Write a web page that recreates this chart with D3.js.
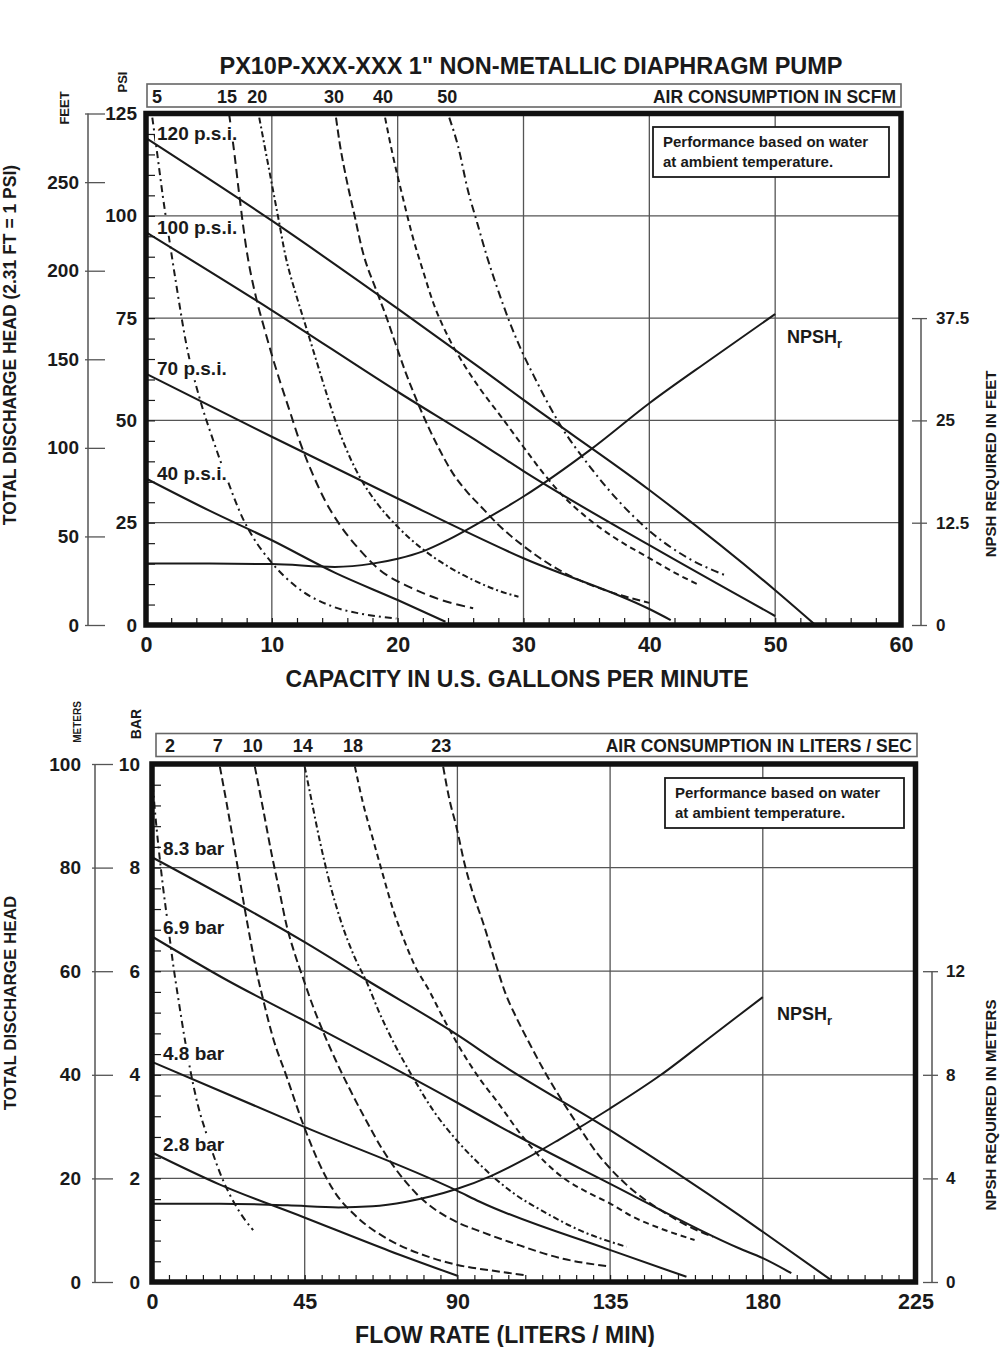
<!DOCTYPE html>
<html><head><meta charset="utf-8">
<script src="https://cdn.jsdelivr.net/npm/d3@7"></script>
<style>
body{margin:0;background:#fff;}
svg{display:block;font-family:"Liberation Sans",Arial,Helvetica,sans-serif;font-weight:bold;}
</style></head><body>
<script>
// ================= TOP CHART DATA (US units) =================
const gpmTicks   = [0,10,20,30,40,50,60];
const psiTicks   = [0,25,50,75,100,125];
const feetTicks  = [0,50,100,150,200,250];
const npshFtTicks= [0,12.5,25,37.5];
const scfmValues = [5,15,20,30,40,50];
const psiNames   = ["120 p.s.i.","100 p.s.i.","70 p.s.i.","40 p.s.i."];
// pressure curves [GPM, PSI]
const psi120 = [[0,119],[10,98.8],[20,77.3],[26.6,62.7],[30,55],[40,33],[50,8.5],[53.2,0]];
const psi100 = [[0,96],[10,76.9],[20,57],[26.6,44.4],[30,37.6],[40,19.5],[50,2.2]];
const psi70  = [[0,61.4],[10,46],[20,30.9],[30,16.3],[40,3.9],[41.7,1.2]];
const psi40  = [[0,35.8],[5,28],[10,20.7],[15,12.8],[20,6.1],[23.8,0.8]];
// NPSH required [GPM, feet]
const npshFt = [[0,7.5],[5,7.5],[10,7.45],[15,7.1],[18,7.5],[20,8.1],[22,9.0],[24,10.4],[26.6,12.6],[30,15.7],[35.3,21.4],[40,27.1],[45,32.6],[50,38]];
// air consumption curves [GPM, PSI]
const scfm5  = [[0.5,124],[0.9,115],[1.35,104.5],[1.86,94],[2.39,83.5],[3.18,69],[4.3,55],[5.3,45.5],[6.4,36],[7.7,26],[8.5,21.5],[10,15.2],[12,9.2],[14.85,4.5],[17,2.8],[19.9,1.6]];
const scfm15 = [[6.6,125],[7.03,115.1],[7.4,105.4],[8,91.5],[8.75,80],[9.4,72.5],[10,66],[10.6,60],[11.4,52.5],[12.2,45],[13.3,36.5],[14.3,30],[15.4,24.5],[17,18.3],[18.6,13.4],[21,9.2],[23.3,6.3],[26,4.1]];
const scfm20 = [[9,124],[9.8,111],[10.5,99.7],[11.1,90],[11.9,81],[12.7,73],[13.5,65],[14.3,57],[15.1,49.5],[16.2,41],[17.2,35],[18.3,30],[20,24],[22,18.5],[24,14.3],[26,11],[28,8.4],[29.6,6.9]];
const scfm30 = [[15.1,124],[15.4,117.6],[15.9,109.4],[16.6,99.7],[17.2,91.5],[18.3,81.8],[19.1,75.3],[19.8,69],[20.6,62],[21.5,55],[22.5,48],[23.3,43],[24.4,37],[25.5,32.6],[26.6,29],[28,24.5],[30,19.3],[33.7,12],[36.5,8.5],[40,5.4]];
const scfm40 = [[19,124],[19.6,115],[20.4,104.6],[21.2,94.8],[22,86.7],[22.8,79],[24,70.5],[25.3,63.5],[26.6,57.5],[28.2,51],[30,43.5],[31.6,37],[33,32],[35.3,25.6],[37.5,20.8],[39.8,16.7],[42,12.8],[44,9.7]];
const scfm50 = [[24.1,124],[24.8,117],[25.6,106],[26.3,98.5],[27.1,90],[27.9,82.5],[28.9,74],[30,66],[30.8,61],[31.8,55],[32.9,49],[35.3,38.6],[37.5,30.5],[40,23],[43,16.5],[46,12.2]];

// ================= BOTTOM CHART DATA (metric) =================
const lpmTicks   = [0,45,90,135,180,225];
const barTicks   = [0,2,4,6,8,10];
const meterTicks = [0,20,40,60,80,100];
const npshMTicks = [0,4,8,12];
const lpsValues  = [2,7,10,14,18,23];
const barNames   = ["8.3 bar","6.9 bar","4.8 bar","2.8 bar"];
// pressure curves [L/min, bar]
const bar83 = [[0,8.2],[45,6.56],[63.2,5.83],[90,4.77],[102.5,4.22],[135,2.93],[173,1.29],[180,0.97],[200.5,0.02]];
const bar69 = [[0,6.67],[22,5.83],[44.7,5.05],[90,3.46],[102.5,3.0],[134.9,1.9],[173,0.65],[180,0.46],[188.4,0.17]];
const bar48 = [[0,4.25],[44.7,3.0],[90,1.76],[96.6,1.55],[134.9,0.62],[157.5,0.1]];
const bar28 = [[0,2.5],[20,1.88],[44.7,1.25],[70,0.6],[90,0.12]];
// NPSH required [L/min, meters]
const npshM = [[0,3.02],[20,3.02],[40,2.96],[55,2.88],[65,2.92],[75,3.1],[82,3.3],[90,3.6],[100,4.1],[110,4.75],[120,5.5],[135,6.7],[150,8.0],[165,9.5],[180,11.0]];
// air consumption curves [L/min, bar]
const lps2  = [[0.2,9.6],[1.0,9.0],[2.0,8.35],[3.3,7.6],[4.8,6.85],[6.3,6.1],[7.8,5.45],[9.5,4.75],[11.5,4.02],[13.5,3.42],[16.1,2.85],[20.5,2.03],[24.9,1.45],[29.8,1.0]];
const lps7  = [[20,9.95],[22,9.24],[23.9,8.53],[25.4,7.95],[27.4,7.18],[29.3,6.5],[30.8,6.0],[32.8,5.44],[35.5,4.75],[39.7,3.96],[44.8,3.0],[48.5,2.4],[53.4,1.78],[60.3,1.26],[70,0.81],[80.9,0.5],[90,0.33],[102.5,0.2],[110,0.13]];
const lps10 = [[30.3,9.95],[32.8,9.11],[35.2,8.28],[37.7,7.5],[39.6,6.9],[42,6.35],[44.6,5.85],[47,5.4],[50.5,4.82],[54,4.3],[58.3,3.72],[63,3.13],[68,2.55],[78,1.7],[90,1.15],[96.6,0.98],[106.4,0.75],[121.1,0.45],[134.9,0.3]];
const lps14 = [[45,9.95],[47,9.3],[49.5,8.5],[52,7.8],[55.5,7.0],[59.5,6.3],[63.2,5.8],[67,5.2],[71,4.65],[76.9,3.95],[83,3.3],[90,2.72],[96.6,2.27],[106.4,1.72],[116.2,1.33],[126,1.0],[139.8,0.68]];
const lps18 = [[59.8,9.95],[62.2,9.24],[65.2,8.53],[68.1,7.85],[71,7.2],[74,6.65],[77.5,6.1],[81.9,5.6],[85,5.2],[90,4.6],[96.6,3.92],[101.5,3.5],[109.3,2.8],[116.2,2.29],[122.1,1.97],[129,1.71],[134.9,1.52],[141.7,1.26],[149.6,1.04],[159.9,0.81]];
const lps23 = [[85.8,9.95],[87.7,9.3],[89.7,8.79],[92.2,8.05],[94.6,7.5],[97.5,6.95],[101.5,6.1],[104,5.6],[107.4,5.1],[111.3,4.6],[115.2,4.12],[120.1,3.58],[126,2.98],[131,2.5],[134.9,2.2],[139.8,1.88],[145.7,1.57],[151.6,1.32],[157.4,1.1],[165.3,0.87]];

// ================= DRAWING =================
const INK = "#1a1a1a", GRID = "#555";
const svg = d3.select("body").append("svg").attr("width",1000).attr("height",1347);

function txt(x,y,s,size,anchor,rot){
  const t = svg.append("text").attr("font-size",size).attr("font-weight","bold").attr("text-anchor",anchor||"start").attr("fill",INK);
  if(rot) t.attr("transform",`translate(${x},${y}) rotate(${rot})`); else t.attr("x",x).attr("y",y);
  t.text(s); return t;
}
function styleAxis(g,size){
  g.attr("font-family",null).attr("font-size",size).attr("font-weight","bold");
  g.selectAll("text").attr("fill",INK);
  g.selectAll("line").attr("stroke",GRID).attr("stroke-width",1.3);
  g.select(".domain").remove();
}

function panel(o){
  const x  = d3.scaleLinear().domain([0,d3.max(o.xTicks)]).range([o.L,o.R]);
  const y  = d3.scaleLinear().domain([0,o.yMax]).range([o.B,o.T]);
  const y2 = d3.scaleLinear().domain([0,o.secMax]).range([o.B,o.T]);
  const yR = d3.scaleLinear().domain([0,o.rMax]).range([o.B,o.T]);
  const G = svg.append("g");

  // grid
  G.append("g").selectAll("line").data(o.xTicks.slice(1,-1)).join("line")
    .attr("x1",d=>x(d)).attr("x2",d=>x(d)).attr("y1",o.T).attr("y2",o.B)
    .attr("stroke",GRID).attr("stroke-width",1.3);
  G.append("g").selectAll("line").data(o.yTicks.slice(1,-1)).join("line")
    .attr("x1",o.L).attr("x2",o.R).attr("y1",d=>y(d)).attr("y2",d=>y(d))
    .attr("stroke",GRID).attr("stroke-width",1.3);

  // air consumption curves
  const ln = d3.line().x(d=>x(d[0])).y(d=>y(d[1])).curve(d3.curveMonotoneX);
  G.append("g").selectAll("path").data(o.air).join("path")
    .attr("d",d=>ln(d)).attr("fill","none").attr("stroke",INK)
    .attr("stroke-width",2).attr("stroke-dasharray",(d,i)=>o.dash[i]);

  // NPSH curve
  const lnR = d3.line().x(d=>x(d[0])).y(d=>yR(d[1])).curve(d3.curveMonotoneX);
  G.append("path").attr("d",lnR(o.npsh)).attr("fill","none").attr("stroke",INK).attr("stroke-width",2);

  // pressure labels with white background
  o.press.forEach((c,i)=>{
    const lg = G.append("g");
    const r = lg.append("rect").attr("fill","#fff");
    const t = lg.append("text").attr("x",o.L+11).attr("y",y(c[0][1])+o.labOff)
      .attr("font-size",19).attr("font-weight","bold").attr("fill",INK).text(o.pressNames[i]);
    const bb = t.node().getBBox();
    r.attr("x",bb.x-2).attr("y",bb.y+1).attr("width",bb.width+4).attr("height",bb.height-3);
  });

  // pressure curves
  G.append("g").selectAll("path").data(o.press).join("path")
    .attr("d",d=>ln(d)).attr("fill","none").attr("stroke",INK).attr("stroke-width",2.1);

  // minor ticks inside frame
  const mt1 = G.append("g").attr("transform",`translate(${o.L},0)`)
    .call(d3.axisRight(y).tickValues(d3.range(0,o.yMax+1e-9,o.yMinor)).tickSize(9).tickFormat(""));
  styleAxis(mt1,10); mt1.selectAll("line").attr("stroke",INK).attr("stroke-width",1.2);
  const mt2 = G.append("g").attr("transform",`translate(0,${o.B})`)
    .call(d3.axisTop(x).tickValues(d3.range(0,d3.max(o.xTicks)+1e-9,o.xMinor)).tickSize(7).tickFormat(""));
  styleAxis(mt2,10); mt2.selectAll("line").attr("stroke",INK).attr("stroke-width",1.2);

  // frame
  G.append("rect").attr("x",o.L).attr("y",o.T).attr("width",o.R-o.L).attr("height",o.B-o.T)
    .attr("fill","none").attr("stroke","#111").attr("stroke-width",5.5);

  // primary left labels (PSI / BAR)
  const ay = G.append("g").attr("transform",`translate(${o.L},0)`)
    .call(d3.axisLeft(y).tickValues(o.yTicks).tickSize(0).tickPadding(o.L-o.yLabR).tickFormat(d=>d));
  styleAxis(ay,19);

  // secondary left axis (FEET / METERS)
  G.append("line").attr("x1",o.secX).attr("x2",o.secX).attr("y1",o.T).attr("y2",o.B)
    .attr("stroke",GRID).attr("stroke-width",1.5);
  const secVals = o.secTicks.includes(o.secMax) ? o.secTicks : o.secTicks.concat([o.secMax]);
  const as = G.append("g").attr("transform",`translate(${o.secT1},0)`)
    .call(d3.axisLeft(y2).tickValues(secVals).tickSize(o.secT1-o.secT0).tickPadding(o.secT0-o.secLabR)
      .tickFormat(d=>o.secTicks.includes(d)?d:""));
  styleAxis(as,19);

  // bottom axis labels
  const ax = G.append("g").attr("transform",`translate(0,${o.B})`)
    .call(d3.axisBottom(x).tickValues(o.xTicks).tickSize(0).tickPadding(o.xPad).tickFormat(d=>d));
  styleAxis(ax,21.5);

  // right NPSH axis
  const rMaxTick = d3.max(o.rTicks);
  G.append("line").attr("x1",o.rX).attr("x2",o.rX).attr("y1",yR(rMaxTick)).attr("y2",o.B)
    .attr("stroke",GRID).attr("stroke-width",1.5);
  const ar = G.append("g").attr("transform",`translate(${o.rX-9},0)`)
    .call(d3.axisRight(yR).tickValues(o.rTicks).tickSize(15).tickPadding(o.rPad).tickFormat(d=>d));
  styleAxis(ar,17);

  // air consumption box
  G.append("rect").attr("x",o.boxL).attr("y",o.boxT).attr("width",o.boxR-o.boxL).attr("height",23)
    .attr("fill","none").attr("stroke","#666").attr("stroke-width",1.6);
  G.append("g").selectAll("text").data(o.air).join("text")
    .attr("x",(d,i)=>Math.max(x(d[0][0])-2,o.boxL+o.firstLab))
    .attr("y",o.boxT+18.5).attr("text-anchor","middle").attr("font-size",18).attr("font-weight","bold").attr("fill",INK)
    .text((d,i)=>o.airValues[i]);
  G.append("text").attr("x",o.boxR-5).attr("y",o.boxT+18.5).attr("text-anchor","end")
    .attr("font-size",17.5).attr("font-weight","bold").attr("fill",INK).text(o.airTitle);

  // note box
  G.append("rect").attr("x",o.noteX).attr("y",o.noteY).attr("width",o.noteW).attr("height",50)
    .attr("fill","#fff").attr("stroke",INK).attr("stroke-width",1.8);
  G.append("text").attr("x",o.noteX+10).attr("y",o.noteY+20).attr("font-size",15).attr("font-weight","bold").attr("fill",INK).text("Performance based on water");
  G.append("text").attr("x",o.noteX+10).attr("y",o.noteY+40).attr("font-size",15).attr("font-weight","bold").attr("fill",INK).text("at ambient temperature.");

  // NPSHr label
  const nt = G.append("text").attr("x",o.npshLX).attr("y",o.npshLY).attr("font-size",18).attr("font-weight","bold").attr("fill",INK).text("NPSH");
  nt.append("tspan").attr("dy",5).attr("font-size",13).text("r");
}

// ---------- TOP ----------
txt(531,74,'PX10P-XXX-XXX 1" NON-METALLIC DIAPHRAGM PUMP',23.5,"middle");
panel({
  L:146, R:901, T:113.5, B:625,
  xTicks:gpmTicks, yTicks:psiTicks, yMax:125, yMinor:5, xMinor:2,
  secMax:125*2.31, secTicks:feetTicks, secX:88, secT0:85, secT1:105, secLabR:79,
  rMax:62.5, rTicks:npshFtTicks, rX:921, rPad:9,
  yLabR:137, xPad:12,
  air:[scfm5,scfm15,scfm20,scfm30,scfm40,scfm50], airValues:scfmValues,
  dash:["7,4,2,4","9,5","6,3,2,3","8,4","6,4","8,4,2,4"],
  press:[psi120,psi100,psi70,psi40], pressNames:psiNames, labOff:1.5,
  npsh:npshFt,
  boxL:147, boxR:901, boxT:84, firstLab:10, airTitle:"AIR CONSUMPTION IN SCFM",
  noteX:653, noteY:127, noteW:236,
  npshLX:787, npshLY:343
});
txt(127,82,"PSI",13,"middle",-90);
txt(69,108,"FEET",13,"middle",-90);
txt(16,345,"TOTAL DISCHARGE HEAD (2.31 FT = 1 PSI)",17.5,"middle",-90);
txt(996,464,"NPSH REQUIRED IN FEET",15,"middle",-90);
txt(517,687,"CAPACITY IN U.S. GALLONS PER MINUTE",23,"middle");

// ---------- BOTTOM ----------
panel({
  L:152, R:915.5, T:764, B:1282,
  xTicks:lpmTicks, yTicks:barTicks, yMax:10, yMinor:0.4, xMinor:5,
  secMax:100, secTicks:meterTicks, secX:95, secT0:92, secT1:113, secLabR:81,
  rMax:20, rTicks:npshMTicks, rX:932, rPad:8,
  yLabR:140, xPad:12,
  air:[lps2,lps7,lps10,lps14,lps18,lps23], airValues:lpsValues,
  dash:["7,4,2,4","8,4","8,4","6,3,2,3","6,4","8,4"],
  press:[bar83,bar69,bar48,bar28], pressNames:barNames, labOff:-2,
  npsh:npshM,
  boxL:156, boxR:917, boxT:733.5, firstLab:14, airTitle:"AIR CONSUMPTION IN LITERS / SEC",
  noteX:665, noteY:778, noteW:239,
  npshLX:777, npshLY:1020
});
txt(81,722,"METERS",10,"middle",-90);
txt(141,724,"BAR",14,"middle",-90);
txt(16,1003,"TOTAL DISCHARGE HEAD",17,"middle",-90);
txt(996,1105,"NPSH REQUIRED IN METERS",15,"middle",-90);
txt(505,1343,"FLOW RATE (LITERS / MIN)",23,"middle");
</script>
</body></html>
